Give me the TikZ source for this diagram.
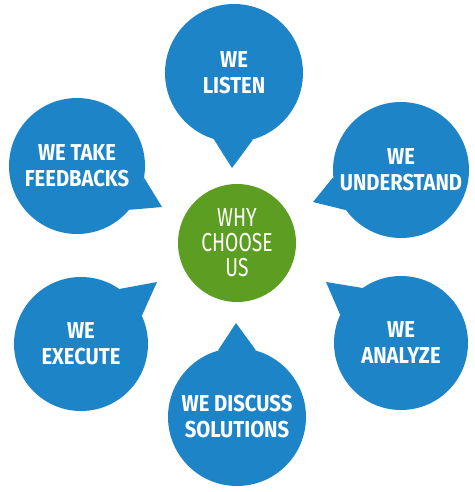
\documentclass[tikz,border=0pt]{standalone}
\usepackage{fontspec}
\usetikzlibrary{backgrounds}
\newfontfamily\bubfont[FakeStretch=0.88]{Fira Sans}
\newfontfamily\whyfont[FakeStretch=0.74]{Fira Sans}
\definecolor{bblue}{RGB}{30,132,200}
\definecolor{wgreen}{RGB}{92,158,34}
\begin{document}
\begin{tikzpicture}[x=1pt,y=-1pt,
  bubble/.style={circle,fill=bblue,text=white,minimum size=#1,inner sep=0pt,align=center,
    font=\bubfont\bfseries\fontsize{23}{26}\selectfont},
  tail/.style={fill=bblue},
  why/.style={circle,fill=wgreen,text=white,minimum size=118pt,inner sep=0pt,align=center,
    font=\whyfont\fontsize{26}{25}\selectfont}]
\useasboundingbox (0,0) rectangle (474,492);

\node[why] (why) at (237,243) {WHY\\CHOOSE\\US};

\node[bubble=138pt] (listen) at (234,73) {WE\\LISTEN};
\node[bubble=136pt] (feed) at (77,166) {WE TAKE\\FEEDBACKS};
\node[bubble=136pt] (under) at (401,170) {WE\\UNDERSTAND};
\node[bubble=134pt] (exec) at (81,344) {WE\\EXECUTE};
\node[bubble=134pt] (anal) at (401,343) {WE\\ANALYZE};
\node[bubble=138pt] (disc) at (237,417) {WE DISCUSS\\SOLUTIONS};

\coordinate (tListen) at (232,168);
\coordinate (tFeed) at (162,207);
\coordinate (tUnder) at (313,202);
\coordinate (tExec) at (157,282);
\coordinate (tAnal) at (326,282);
\coordinate (tDisc) at (236,323);

\begin{scope}[on background layer]
\fill[tail] (listen.-74) -- (tListen) -- (listen.-107) -- cycle;
\fill[tail] (feed.-10) -- (tFeed) -- (feed.-40) -- cycle;
\fill[tail] (under.186) -- (tUnder) -- (under.216) -- cycle;
\fill[tail] (exec.25) -- (tExec) -- (exec.55) -- cycle;
\fill[tail] (anal.125) -- (tAnal) -- (anal.155) -- cycle;
\fill[tail] (disc.74) -- (tDisc) -- (disc.106) -- cycle;
\end{scope}
\end{tikzpicture}
\end{document}
